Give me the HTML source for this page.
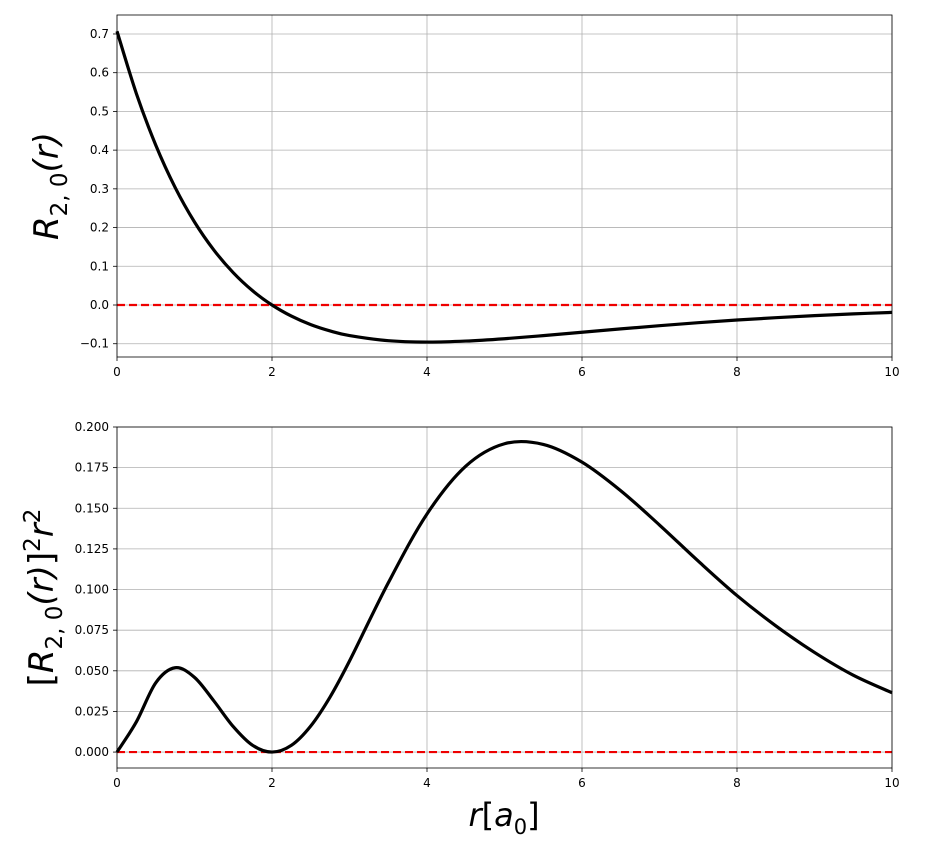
<!DOCTYPE html>
<html><head><meta charset="utf-8"><style>
body{margin:0;background:#fff;}
svg text{font-family:"DejaVu Sans","Liberation Sans",sans-serif;}
</style></head><body>
<svg id="chart" width="932" height="836" viewBox="0 0 932 836" xmlns="http://www.w3.org/2000/svg"></svg>
<script>
const rValues=[0,0.25,0.5,0.75,1,1.25,1.5,1.75,2,2.25,2.5,2.75,3,3.5,4,4.5,5,5.5,6,6.5,7,7.5,8,8.5,9,9.5,10];
const radialValues=[0.7071,0.5460,0.4130,0.3037,0.2144,0.1419,0.0835,0.0368,0,-0.0287,-0.0507,-0.0670,-0.0789,-0.0922,-0.0957,-0.0932,-0.0871,-0.0791,-0.0704,-0.0617,-0.0534,-0.0457,-0.0388,-0.0328,-0.0275,-0.0229,-0.0191];
const probValues=[0,0.01863,0.04264,0.05188,0.04597,0.03146,0.01569,0.00415,0,0.00417,0.01607,0.03395,0.05603,0.1041,0.1465,0.1759,0.1897,0.1893,0.1784,0.1608,0.1397,0.1175,0.0963,0.0777,0.0613,0.0473,0.0365];
const xTicks=[0,2,4,6,8,10];
const topYTicks=[-0.1,0,0.1,0.2,0.3,0.4,0.5,0.6,0.7];
const botYTicks=[0,0.025,0.05,0.075,0.1,0.125,0.15,0.175,0.2];
const NS="http://www.w3.org/2000/svg";
const svg=document.getElementById('chart');
function mk(tag,attrs,parent){const e=document.createElementNS(NS,tag);for(const k in attrs)e.setAttribute(k,attrs[k]);(parent||svg).appendChild(e);return e;}
function smooth(pts){let d=`M${pts[0][0]},${pts[0][1]}`;for(let i=0;i<pts.length-1;i++){const p0=pts[Math.max(0,i-1)],p1=pts[i],p2=pts[i+1],p3=pts[Math.min(pts.length-1,i+2)];const c1=[p1[0]+(p2[0]-p0[0])/6,p1[1]+(p2[1]-p0[1])/6],c2=[p2[0]-(p3[0]-p1[0])/6,p2[1]-(p3[1]-p1[1])/6];d+=` C${c1[0]},${c1[1]} ${c2[0]},${c2[1]} ${p2[0]},${p2[1]}`;}return d;}
function panel(name,top,bottom,yMin,yMax,yTicks,fmt,vals,label){
  const L=117,R=892;
  const xs=v=>L+(v-0)/(10-0)*(R-L);
  const ys=v=>bottom-(v-yMin)/(yMax-yMin)*(bottom-top);
  const g=mk('g',{});
  
  
  for(const t of xTicks){
    const gl=mk('line',{x1:xs(t),x2:xs(t),y1:top,y2:bottom,stroke:'#b0b0b0','stroke-width':0.8},g);
    
    mk('line',{x1:xs(t),x2:xs(t),y1:bottom,y2:bottom+4,stroke:'#000','stroke-width':0.8},g);
    const tx=mk('text',{x:xs(t),y:bottom+19,'font-size':12,'text-anchor':'middle'},g);
    tx.textContent=t;
    
  }
  for(const t of yTicks){
    const gl=mk('line',{x1:L,x2:R,y1:ys(t),y2:ys(t),stroke:'#b0b0b0','stroke-width':0.8},g);
    
    mk('line',{x1:L-4,x2:L,y1:ys(t),y2:ys(t),stroke:'#000','stroke-width':0.8},g);
    const tx=mk('text',{x:L-8,y:ys(t)+4,'font-size':12,'text-anchor':'end'},g);
    tx.textContent=fmt(t);
    
  }
  const z=mk('line',{x1:L,x2:R,y1:ys(0),y2:ys(0),stroke:'#e00','stroke-width':2.2,'stroke-dasharray':'8,4'},g);
  
  const pts=rValues.map((r,i)=>[xs(r),ys(vals[i])]);
  const p=mk('path',{d:smooth(pts),fill:'none',stroke:'#000','stroke-width':3.2},g);
  
  const fr=mk('rect',{x:L,y:top,width:R-L,height:bottom-top,fill:'none',stroke:'#000','stroke-width':0.8},g);
  
  const yl=mk('text',{x:0,y:0,'font-size':34,'font-style':'italic','text-anchor':'middle',transform:`translate(${label.x},${(top+bottom)/2}) rotate(-90)`},g);
  yl.innerHTML=label.html;
  
}
panel('top-panel',15,357,-0.1343,0.749,topYTicks,t=>t<0?'\u2212'+Math.abs(t).toFixed(1):t.toFixed(1),radialValues,
 {x:58,html:'R<tspan font-size="23" dy="9" font-style="normal">2, 0</tspan><tspan dy="-9">(r)</tspan>'});
panel('bottom-panel',427,768,-0.0098,0.2,botYTicks,t=>t.toFixed(3),probValues,
 {x:53,html:'<tspan font-style="normal">[</tspan>R<tspan font-size="23" dy="9" font-style="normal">2, 0</tspan><tspan dy="-9">(r)</tspan><tspan font-style="normal">]</tspan><tspan font-size="23" dy="-13" font-style="normal">2</tspan><tspan dy="13">r</tspan><tspan font-size="23" dy="-13" font-style="normal">2</tspan>'});
const xl=mk('text',{x:504,y:826,'font-size':32,'text-anchor':'middle','font-style':'italic'});
xl.innerHTML='r<tspan font-style="normal">[</tspan>a<tspan font-size="21" dy="8" font-style="normal">0</tspan><tspan dy="-8" font-style="normal">]</tspan>';


</script>
</body></html>
